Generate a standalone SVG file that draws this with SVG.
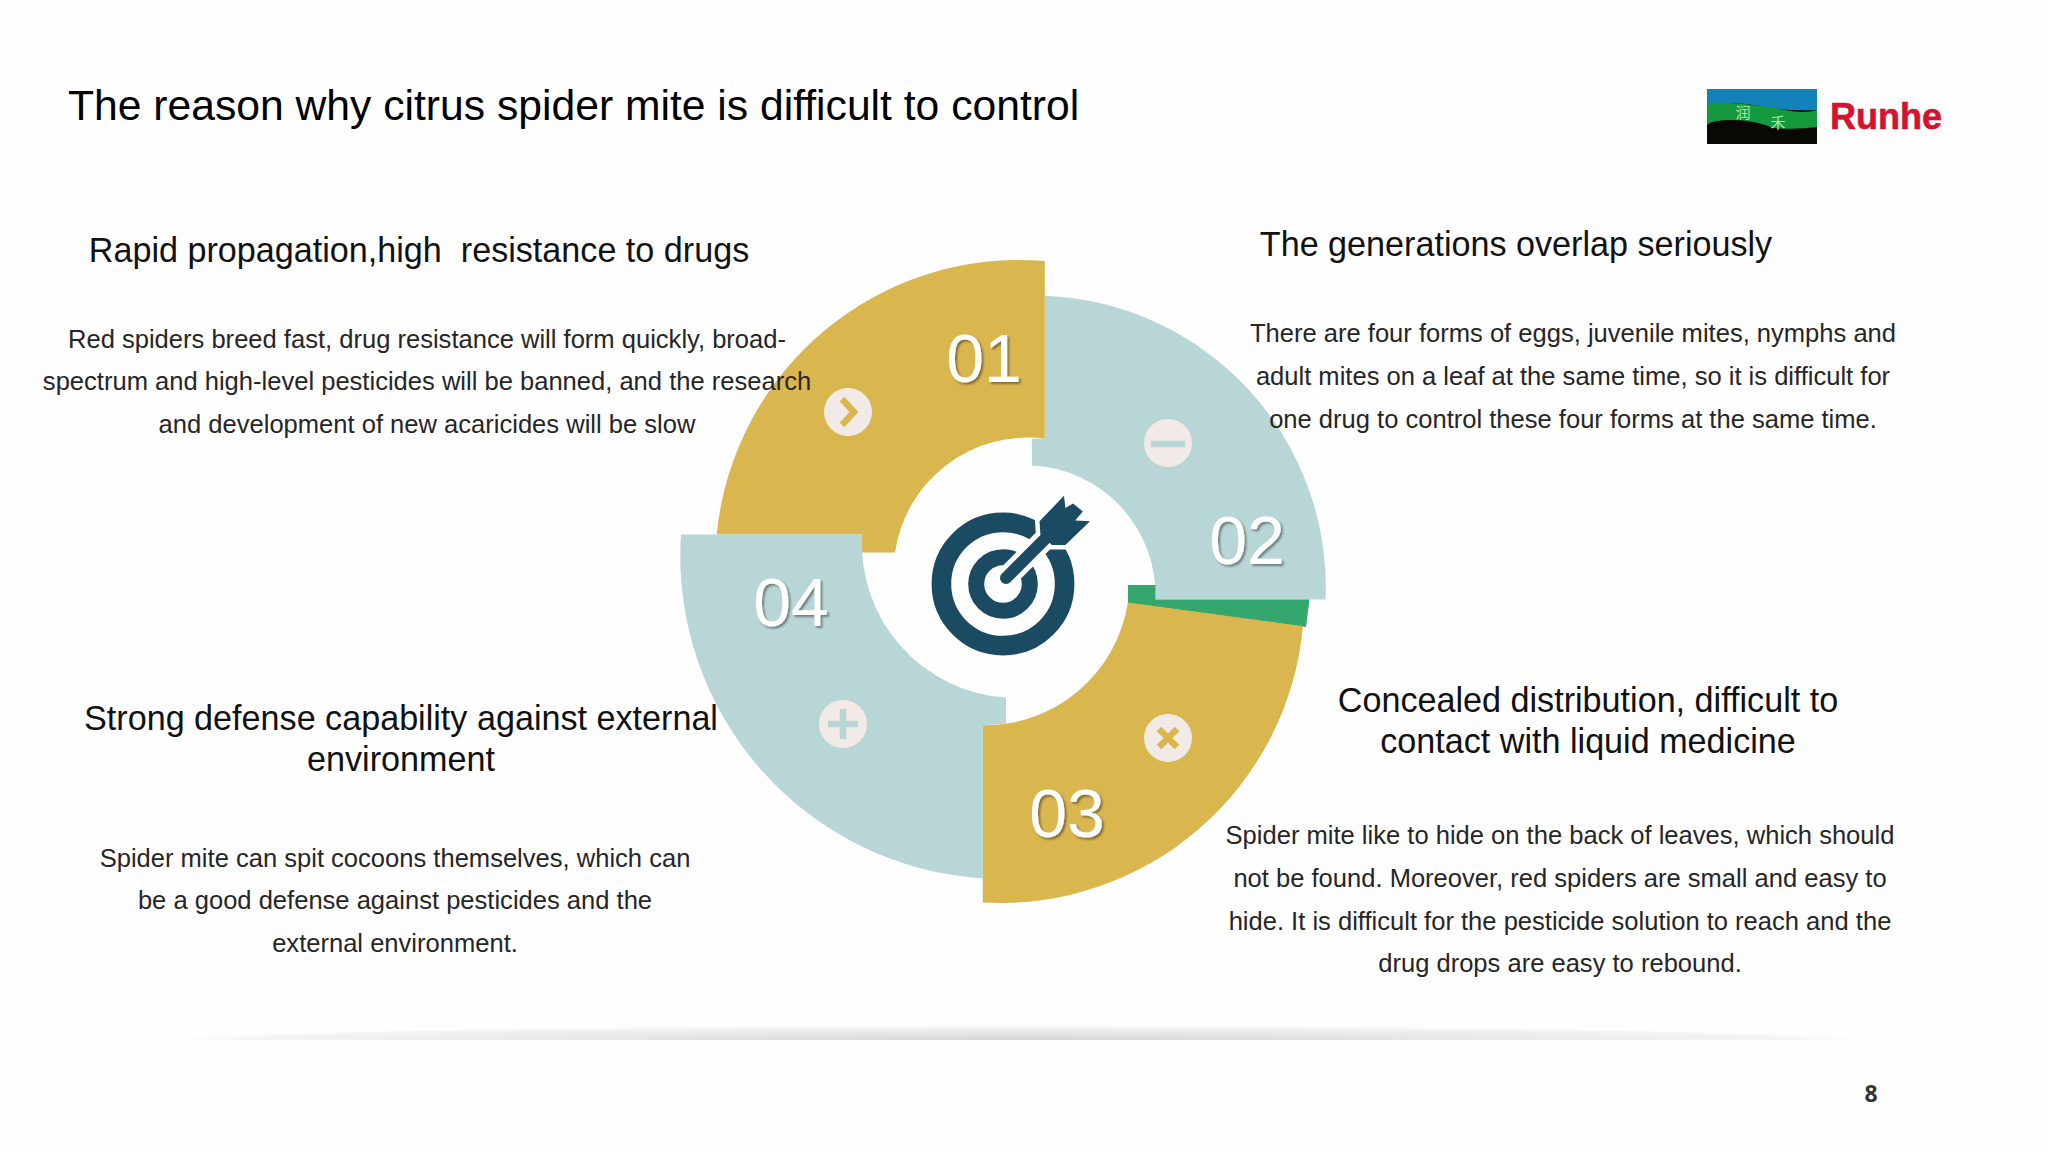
<svg xmlns="http://www.w3.org/2000/svg" width="2048" height="1152" viewBox="0 0 2048 1152">
<style>
text{font-family:"Liberation Sans",Arial,sans-serif}
.t{font-size:42.65px;fill:#000}
.h{font-size:34.15px;fill:#111;text-anchor:middle;white-space:pre}
.b{font-size:25.55px;fill:#262626;text-anchor:middle}
.n{font-size:68px;fill:#fff;text-anchor:middle;filter:url(#sh)}
.gold{fill:#dab64f}
.teal{fill:#b8d6d6}
.disc{fill:#f2eae6}
.ig{stroke:#dab64f;stroke-width:6.5;fill:none}
.it{stroke:#b8d6d6;stroke-width:6.5;fill:none}
</style>
<defs>
<filter id="sh" x="-20%" y="-20%" width="140%" height="140%"><feDropShadow dx="2" dy="2" stdDeviation="1.2" flood-color="#000" flood-opacity=".4"/></filter>
<radialGradient id="fl"><stop offset="0" stop-color="#d6d6d6"/><stop offset=".55" stop-color="#e9e9e9"/><stop offset=".88" stop-color="#f5f5f5"/><stop offset="1" stop-color="#fff" stop-opacity="0"/></radialGradient>
<clipPath id="cf"><rect x="100" y="1000" width="1900" height="40"/></clipPath>
</defs>
<rect width="2048" height="1152" fill="#fefefe"/>
<g id="footer-shadow" clip-path="url(#cf)"><ellipse cx="1020" cy="1040" rx="880" ry="15" fill="url(#fl)"/></g>
<g id="title"><text class="t" x="68" y="120">The reason why citrus spider mite is difficult to control</text></g>
<g id="logo">
<rect x="1707" y="89" width="110" height="55" fill="#0a0804"/>
<path d="M1707 89H1817V110Q1785 111 1765 107T1730 103T1707 103Z" fill="#1282b8"/>
<path d="M1707 103Q1725 102 1745 104T1785 110T1817 110V127Q1795 130 1773 128Q1755 120 1733 120T1707 125Z" fill="#149a3c"/>
<text x="1743" y="118" font-size="15" fill="#a8e6a8" text-anchor="middle" style="font-family:'Noto Sans CJK SC',sans-serif">润</text>
<text x="1778" y="128" font-size="15" fill="#a8e6a8" text-anchor="middle" style="font-family:'Noto Sans CJK SC',sans-serif">禾</text>
<text x="1830" y="129" font-size="36" font-weight="700" fill="#d5132f" stroke="#d5132f" stroke-width=".6">Runhe</text>
</g>
<g id="connectors"></g>
<g id="ring">
<g id="seg-02"><path class="teal" d="M1044.8 295.8A292 292 0 0 1 1325.6 599.4H1155.5A130 130 0 0 0 1031.9 465.4V438.7H1044.8Z"/>
<path d="M1127.9 585.1H1155.5V599.4H1309.5L1306 627L1127.9 603Z" fill="#34a76f"/></g>
<g id="seg-01"><path class="gold" d="M1044.8 261A304 304 0 0 0 716.7 534.6H862V552.5H895A134 134 0 0 1 1044.8 438.7Z"/></g>
<g id="seg-03"><path class="gold" d="M1127.9 602.5L1302.9 626.2A304 304 0 0 1 982.8 902.5V725.3A145 145 0 0 0 1127.9 602.5Z"/></g>
<g id="seg-04"><path class="teal" d="M681 534.6H862.2A154 154 0 0 0 1006 697.6V723.5L982.8 725.3V878.4A323 323 0 0 1 681 534.6Z"/></g>
</g>
<g id="node-01"><circle class="disc" cx="848" cy="412" r="24"/><path class="ig" d="M842 399L854 412L842 425"/><text class="n" x="984" y="382">01</text></g>
<g id="node-02"><circle class="disc" cx="1168" cy="443" r="24"/><path class="it" d="M1151 444H1185"/><text class="n" x="1247" y="564">02</text></g>
<g id="node-03"><circle class="disc" cx="1168" cy="738" r="24"/><path class="ig" d="M1159 729L1177 747M1177 729L1159 747"/><text class="n" x="1067" y="837">03</text></g>
<g id="node-04"><circle class="disc" cx="843" cy="724" r="24"/><path class="it" d="M843 709V739M828 724H858"/><text class="n" x="791" y="626">04</text></g>
<g id="target">
<circle cx="1003" cy="584" r="61.6" fill="none" stroke="#1b4a63" stroke-width="19.6"/>
<circle cx="1003" cy="584" r="26.8" fill="none" stroke="#1b4a63" stroke-width="16"/>
<path d="M1039.5 521.3L1064 495.8L1065.4 507.9L1073 503.4L1082.8 511.4L1075.2 520.4L1090 521.3L1065.4 544.9H1052L1040.4 534.6Z" fill="#fff" stroke="#fff" stroke-width="9"/>
<path d="M1006 578L1048 536" stroke="#fff" stroke-width="22"/>
<path d="M1006 578L1048 536" stroke="#1b4a63" stroke-width="12" stroke-linecap="round"/>
<path d="M1039.5 521.3L1064 495.8L1065.4 507.9L1073 503.4L1082.8 511.4L1075.2 520.4L1090 521.3L1065.4 544.9H1052L1040.4 534.6Z" fill="#1b4a63"/>
</g>
<g id="text-01">
<text class="h" x="419" y="262">Rapid propagation,high  resistance to drugs</text>
<text class="b" x="427" y="348">Red spiders breed fast, drug resistance will form quickly, broad-</text>
<text class="b" x="427" y="390">spectrum and high-level pesticides will be banned, and the research</text>
<text class="b" x="427" y="433">and development of new acaricides will be slow</text>
</g>
<g id="text-02">
<text class="h" x="1516" y="256">The generations overlap seriously</text>
<text class="b" x="1573" y="342">There are four forms of eggs, juvenile mites, nymphs and</text>
<text class="b" x="1573" y="385">adult mites on a leaf at the same time, so it is difficult for</text>
<text class="b" x="1573" y="428">one drug to control these four forms at the same time.</text>
</g>
<g id="text-03">
<text class="h" x="1588" y="712">Concealed distribution, difficult to</text>
<text class="h" x="1588" y="753">contact with liquid medicine</text>
<text class="b" x="1560" y="844">Spider mite like to hide on the back of leaves, which should</text>
<text class="b" x="1560" y="887">not be found. Moreover, red spiders are small and easy to</text>
<text class="b" x="1560" y="930">hide. It is difficult for the pesticide solution to reach and the</text>
<text class="b" x="1560" y="972">drug drops are easy to rebound.</text>
</g>
<g id="text-04">
<text class="h" x="401" y="730">Strong defense capability against external</text>
<text class="h" x="401" y="771">environment</text>
<text class="b" x="395" y="867">Spider mite can spit cocoons themselves, which can</text>
<text class="b" x="395" y="909">be a good defense against pesticides and the</text>
<text class="b" x="395" y="952">external environment.</text>
</g>
<g id="page"><text x="1871" y="1102" font-size="23" font-weight="700" fill="#333" text-anchor="middle" style="font-family:'Open Sans',sans-serif">8</text></g>
</svg>
